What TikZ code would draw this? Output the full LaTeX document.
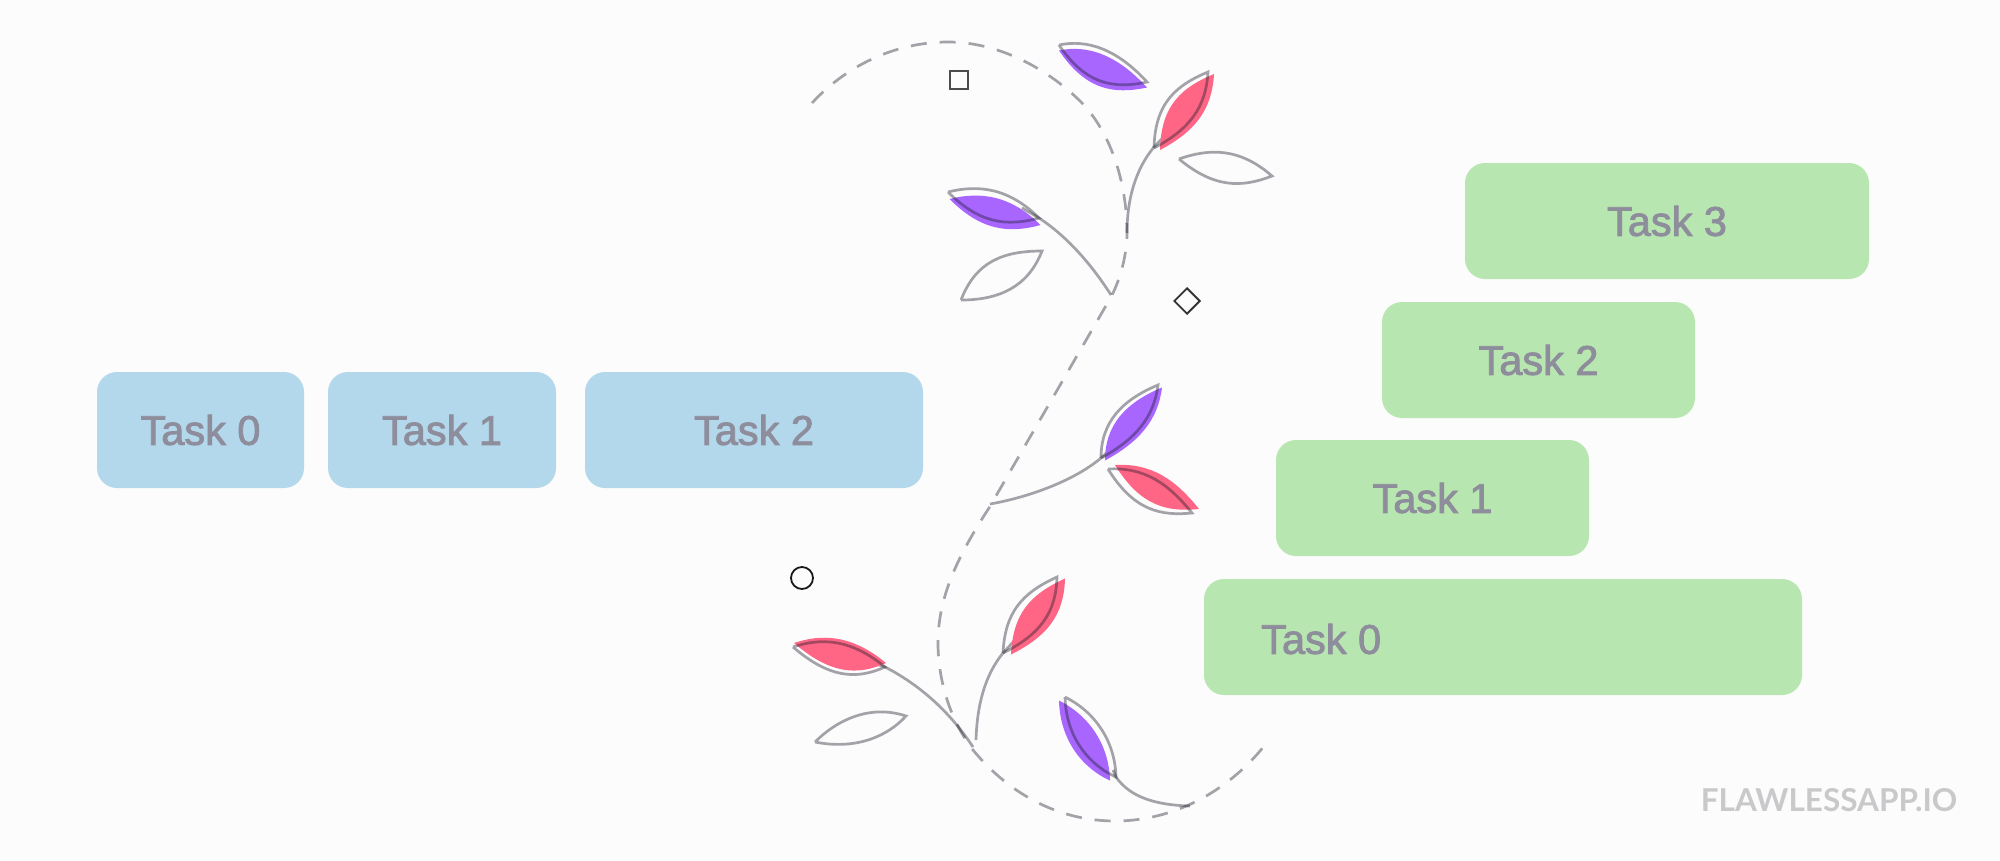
\documentclass[tikz,border=0pt]{standalone}
\usepackage{fontspec}
\usepackage{tikz}
\setmainfont{Liberation Sans}
\newfontfamily\taskfamily[FakeBold=2]{Liberation Sans}
\newfontfamily\logofamily{Lato}
\newcommand{\taskfont}{\taskfamily\fontsize{41.5}{48}\selectfont}
\newcommand{\logofont}{\logofamily\bfseries\fontsize{31.5}{40}\selectfont}
\definecolor{barblue}{HTML}{B3D7EB}
\definecolor{bargreen}{HTML}{B8E6B0}
\definecolor{tasktext}{HTML}{8E8D9C}
\definecolor{logotext}{HTML}{C9C9CB}
\definecolor{leafpurple}{HTML}{A866FF}
\definecolor{leafred}{HTML}{FF6584}
\definecolor{linegrey}{HTML}{1C1C2A}
\tikzset{
    BA/.style ={rectangle,rounded corners=20pt,minimum height=116pt,inner sep=0pt,fill=barblue,text=tasktext,font=\taskfont},
    GA/.style ={rectangle,rounded corners=20pt,minimum height=116pt,inner sep=0pt,fill=bargreen,text=tasktext,font=\taskfont},
    LL/.style ={draw=linegrey,draw opacity=0.4,line width=2.7pt},
    DL/.style ={draw=linegrey,draw opacity=0.4,line width=2.7pt,dash pattern=on 16pt off 13pt},
    MK/.style ={draw,line width=1.8pt,inner sep=0pt}}
\newcommand{\leaf}[7]{
    \fill[#1] (#2) .. controls (#3) and (#4) .. (#5) .. controls (#6) and (#7) .. (#2);
    \draw[LL] (#2) .. controls (#3) and (#4) .. (#5) .. controls (#6) and (#7) .. (#2);}
\begin{document}
\begin{tikzpicture}[x=1pt,y=-1pt]
        \useasboundingbox[fill=white!99!black] (0,0) rectangle (2000,860);
        \node[BA,minimum width=207pt] (bt0) at (200.5,430) {Task 0};
        \node[BA,minimum width=228pt] (bt1) at (442,430) {Task 1};
        \node[BA,minimum width=338pt] (bt2) at (754,430) {Task 2};
        \node[GA,minimum width=404pt] (gt3) at (1667,221) {Task 3};
        \node[GA,minimum width=313pt] (gt2) at (1538.5,360) {Task 2};
        \node[GA,minimum width=313pt] (gt1) at (1432.5,498) {Task 1};
        \node[GA,minimum width=598pt] (gt0) at (1503,637) {};
        \node[text=tasktext,font=\taskfont,inner sep=0pt,anchor=west] (lt0) at (1261,639) {Task 0};
        \node[text=logotext,font=\logofont,inner sep=0pt] (logo) at (1829,800) {FLAWLESSAPP.IO};
        \node[MK,rectangle,minimum size=18pt,draw=black!70] (sq) at (959,80) {};
        \node[MK,rectangle,minimum size=18pt,rotate=45,draw=black!80] (di) at (1187,301) {};
        \node[MK,circle,minimum size=22pt,draw=black!90] (ci) at (802,578) {};
        \draw[DL] (812,103) .. controls (850,62) and (900,42) .. (948,42) .. controls (1000,42) and (1050,70) .. (1084,105) .. controls (1115,140) and (1127,190) .. (1127,233) .. controls (1127,255) and (1120,280) .. (1111,297) -- (989,508) .. controls (955,560) and (938,600) .. (938,643) .. controls (938,680) and (950,720) .. (973,750) .. controls (1010,795) and (1060,821) .. (1115,821) .. controls (1180,821) and (1235,785) .. (1268,741);
        \draw[LL] (1127,233) .. controls (1127,200) and (1135,170) .. (1154,147) -- (1177,123);
        \draw[LL] (1111,295) .. controls (1090,262) and (1065,235) .. (1039,218) -- (1022,208);
        \draw[LL] (990,504) .. controls (1030,497) and (1075,480) .. (1101,458) -- (1115,445);
        \draw[LL] (976,740) .. controls (977,705) and (985,675) .. (1003,653) -- (1026,628);
        \draw[LL] (973,747) .. controls (950,712) and (920,685) .. (885,667) -- (865,660);
        \draw[LL] (1190,806) .. controls (1155,805) and (1130,797) .. (1116,777) -- (1113,770);
        \leaf{leafpurple,shift={(0,5.5)}}{1059,45}{1087,39}{1117,49}{1147,82}{1114,89}{1086,85}
        \leaf{leafred,shift={(6,2)}}{1154,148}{1155,102}{1177,85}{1208,72}{1206,107}{1190,129}
        \leaf{opacity=0}{1179,159}{1210,148}{1240,148}{1272,176}{1241,188}{1214,188}
        \leaf{leafpurple,shift={(1.5,7)}}{948,192}{980,184}{1010,189}{1039,218}{1006,227}{979,223}
        \leaf{opacity=0}{961,300}{976,261}{1004,251}{1042,251}{1028,287}{999,300}
        \leaf{leafpurple,shift={(4,2.5)}}{1101,458}{1101,422}{1122,400}{1158,385}{1154,417}{1136,439}
        \leaf{leafred,shift={(7,-4)}}{1108,469}{1144,467}{1168,483}{1192,513}{1161,516}{1134,511}
        \leaf{leafred,shift={(8,1.5)}}{1003,653}{1005,612}{1022,593}{1057,577}{1056,612}{1041,634}
        \leaf{leafred,shift={(1,-4)}}{793,647}{820,638}{850,638}{885,667}{856,680}{829,678}
        \leaf{opacity=0}{815,742}{837,720}{870,704}{906,716}{887,737}{855,750}
        \leaf{leafpurple,shift={(-6,3.5)}}{1065,697}{1095,712}{1115,741}{1116,777}{1091,766}{1066,739}
    \end{tikzpicture}
\end{document}
